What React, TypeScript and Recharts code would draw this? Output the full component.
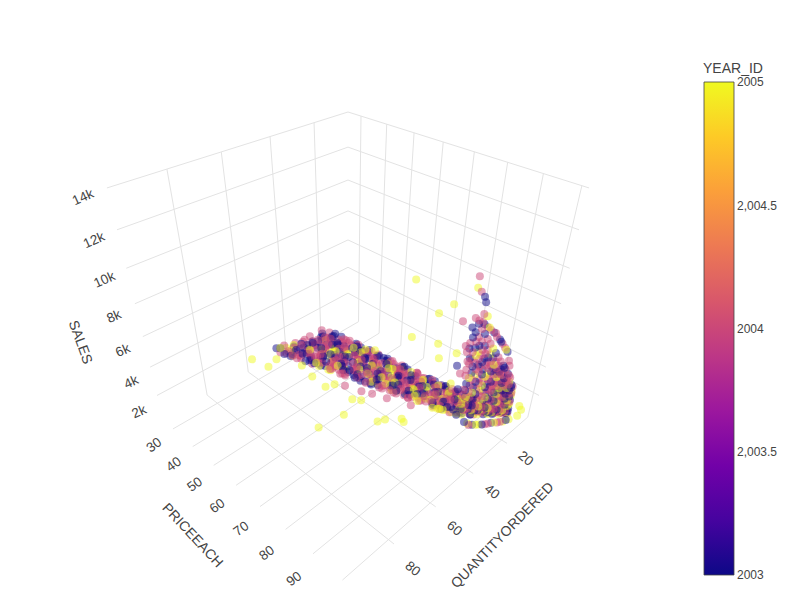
import { ReferenceArea, ReferenceLine, Scatter, ScatterChart, XAxis, YAxis } from 'recharts';

// values, row by row across the four arrays
const quantityOrdered = [
    21,24,27,30,33,36,39,42,45,48,50,22,26,29,34,38,41,44,47,25,
    20,23,28,31,35,37,40,43,46,49,21,25,27,32,36,39,42,45,48,30,
    22,26,29,33,37,41,44,47,50,20,24,28,31,35,38,42,46,49,27,34,
    21,25,30,34,39,43,45,48,23,27,32,36,40,44,47,50,20,29,37,41,
    24,28,31,35,38,42,46,49,20,22,26,33,37,40,44,48,30,27,41,50,
    21,25,29,32,36,39,43,47,50,23,27,31,34,38,41,45,48,20,28,44,
    22,26,30,33,37,40,44,46,49,20,24,28,35,39,42,47,50,31,25,43,
    21,24,27,32,36,38,41,45,48,50,23,29,34,37,43,46,20,26,39,30,
    25,28,31,35,40,42,44,47,49,22,20,27,33,36,38,45,50,30,24,41,
    20,23,26,29,34,37,39,43,46,48,21,28,32,35,41,44,47,50,25,31,
    22,24,27,30,33,36,40,42,45,49,20,26,29,34,38,43,47,50,31,37,
    21,25,28,32,35,39,41,44,46,48,23,27,30,37,42,50,20,34,43,26,
    20,24,27,31,34,38,41,45,47,50,22,26,29,33,36,40,44,48,25,37,
    21,23,28,30,35,39,42,46,49,20,25,27,32,37,40,43,45,48,50,34,
    20,23,26,28,31,33,35,37,40,43,46,49,22,25,30,34,39,44,47,50,
    21,24,27,29,33,36,38,41,44,47,50,20,26,30,34,35,40,43,45,49,
    21,23,25,28,30,32,36,39,41,43,45,48,20,22,27,33,37,40,44,50,
    22,24,26,28,31,33,35,38,42,46,49,20,25,27,30,34,36,40,44,48,
    21,23,25,29,32,34,36,39,43,45,47,50,22,26,28,31,37,41,44,49,
    20,22,24,26,30,33,35,37,40,42,46,49,21,25,28,32,36,39,44,50,
    21,23,25,27,29,32,34,36,38,41,45,48,20,24,28,33,37,40,44,49,
    20,22,25,28,30,33,35,38,40,42,44,47,49,21,26,31,36,39,43,50,
    21,23,26,29,32,34,37,39,43,46,48,20,24,27,30,35,40,44,47,50,
    22,24,27,30,33,36,38,40,42,45,49,20,23,26,31,34,39,43,47,50,
    21,23,25,28,32,35,37,39,41,44,46,48,20,27,30,33,36,42,45,50,
    20,22,24,26,29,31,33,36,38,40,43,45,47,49,21,28,34,39,44,50,
    21,23,25,28,30,32,35,37,39,42,46,49,20,24,27,34,38,41,44,50,
    20,22,24,26,29,31,33,36,38,41,44,47,21,28,34,39,42,46,48,50,
    20,21,22,23,24,25,26,27,28,29,30,31,32,33,34,35,
    36,37,38,39,40,41,42,43,44,45,46,47,48,49,50,21,
    22,24,26,28,30,32,34,36,38,40,42,44,46,48,50,20,
    21,23,25,27,29,31,33,35,37,39,41,43,45,47,49,20,
    20,22,25,27,30,32,35,37,40,42,45,47,50,24,28,34,
    21,23,26,29,31,33,36,38,41,43,44,46,48,49,20,28,
    20,22,24,27,30,33,35,37,39,41,43,45,47,50,26,32,
    20,21,23,25,28,30,32,34,36,38,40,42,44,46,48,50,
    26,28,30,32,34,36,38,40,42,44,25,29,33,37,41,45,
    20,22,24,26,28,30,32,34,36,38,40,42,44,46,48,50,
    21,23,25,27,29,31,33,35,37,39,41,43,45,47,49,50,
    20,22,24,26,28,30,32,34,36,38,40,42,44,46,48,50,
    21,23,25,27,29,31,33,35,37,39,41,43,45,47,49,24,
    20,22,24,26,28,30,32,34,36,38,40,42,44,46,48,50,
    21,23,25,27,29,31,33,35,37,39,41,43,45,47,49,30,
    23,25,27,29,31,33,35,37,39,41,43,45,47,49,24,28,
    18,22,26,30,34,38,42,45,20,24,28,32,36,40,44,47,
    52,54,56,53,55,51,57,52,54,56,50,53,
    76,60,66,76,65,64,56,55,47,43,50,50,48,46,45,45,
    62,61,56,47,54,60,63,60,90,84,80,77,72,73,68,68,24,21,18,
    12,10,12,50,51,52,50,60,60,59,59,58,
];
const priceEach = [
    30,29,31,28,32,30,29,31,30,28,32,27,31,33,29,31,30,28,29,33,
    35,36,34,37,35,34,36,38,35,37,38,34,37,35,37,36,34,37,36,38,
    40,41,39,42,40,43,41,39,40,42,39,43,41,40,42,39,43,41,40,39,
    45,46,44,47,45,44,46,48,47,44,46,45,48,46,44,47,48,45,46,44,
    50,49,52,50,51,49,53,50,52,49,51,53,49,52,50,51,49,53,51,50,
    55,54,56,58,55,57,54,56,55,57,55,54,56,58,55,57,54,56,58,55,
    60,61,59,62,60,63,61,59,60,62,59,63,60,61,59,62,61,60,63,59,
    65,66,64,67,65,68,64,66,65,67,64,68,66,65,67,64,68,65,66,67,
    70,71,69,72,70,73,69,71,70,72,73,69,71,70,72,69,71,73,70,72,
    75,76,74,77,75,78,74,76,75,77,78,74,76,75,77,74,78,75,76,74,
    80,81,79,82,80,83,79,81,80,82,79,83,81,80,82,79,81,80,83,79,
    85,86,84,87,85,88,84,86,85,87,84,88,86,85,87,84,88,86,85,84,
    90,91,89,92,90,93,89,91,90,92,93,89,91,90,92,89,93,91,90,89,
    95,97,94,98,96,95,99,94,97,96,98,95,97,94,99,96,98,95,97,99,
    32,33,32,34,33,32,34,33,34,32,33,34,33,34,32,33,32,34,33,34,
    37,38,39,38,37,39,38,37,39,38,37,39,38,37,39,38,37,39,38,37,
    43,42,44,43,42,44,43,42,44,43,42,44,43,44,42,43,44,42,43,44,
    48,47,49,48,47,49,48,47,49,48,47,49,48,47,49,48,47,49,48,47,
    53,52,54,53,52,54,53,52,54,53,52,54,53,54,52,53,54,52,53,54,
    58,57,59,58,57,59,58,57,59,58,57,59,58,59,57,58,59,57,58,59,
    63,62,64,63,62,64,63,62,64,63,62,64,63,64,62,63,64,62,63,64,
    68,67,69,68,67,69,68,67,69,68,67,69,68,69,67,68,69,67,68,69,
    73,72,74,73,72,74,73,72,74,73,72,74,73,74,72,73,74,72,73,74,
    78,77,79,78,77,79,78,77,79,78,77,79,78,79,77,78,79,77,78,79,
    83,82,84,83,82,84,83,82,84,83,82,84,83,84,82,83,84,82,83,84,
    88,87,89,88,87,89,88,87,89,88,87,89,88,87,89,88,87,89,88,87,
    93,92,94,93,92,94,93,92,94,93,92,94,93,94,92,93,94,92,93,94,
    98,97,99,98,97,99,98,97,99,98,97,99,98,99,97,98,99,97,98,99,
    100,100,100,100,100,100,100,100,100,100,100,100,100,100,100,100,
    100,100,100,100,100,100,100,100,100,100,100,100,100,100,100,100,
    100,100,100,100,100,100,100,100,100,100,100,100,100,100,100,100,
    100,100,100,100,100,100,100,100,100,100,100,100,100,100,100,100,
    100,100,100,100,100,100,100,100,100,100,100,100,100,100,100,100,
    100,100,100,100,100,100,100,100,100,100,100,100,100,100,100,100,
    100,100,100,100,100,100,100,100,100,100,100,100,100,100,100,100,
    100,100,100,100,100,100,100,100,100,100,100,100,100,100,100,100,
    100,100,100,100,100,100,100,100,100,100,100,100,100,100,100,100,
    100,100,100,100,100,100,100,100,100,100,100,100,100,100,100,100,
    100,100,100,100,100,100,100,100,100,100,100,100,100,100,100,100,
    100,100,100,100,100,100,100,100,100,100,100,100,100,100,100,100,
    100,100,100,100,100,100,100,100,100,100,100,100,100,100,100,100,
    100,100,100,100,100,100,100,100,100,100,100,100,100,100,100,100,
    100,100,100,100,100,100,100,100,100,100,100,100,100,100,100,100,
    100,100,100,100,100,100,100,100,100,100,100,100,100,100,100,100,
    100,100,100,100,100,100,100,100,100,100,100,100,100,100,100,100,
    100,100,100,100,100,100,100,100,100,100,100,100,
    100,100,100,100,100,100,100,100,100,100,100,100,100,100,100,100,
    30,37,36,29,46,56,64,65,85,88,95,95,97,97,78,81,44,47,49,
    100,100,100,95,94,93,94,69,75,78,83,90,
];
const sales = [
    630,696,837,840,1056,1080,1131,1302,1350,1344,1600,594,806,957,986,1178,1230,1232,1363,825,
    700,828,952,1147,1225,1258,1440,1634,1610,1813,798,850,999,1120,1332,1404,1428,1665,1728,1140,
    880,1066,1131,1386,1480,1763,1804,1833,2000,840,936,1204,1271,1400,1596,1638,1978,2009,1080,1326,
    945,1150,1320,1598,1755,1892,2070,2304,1081,1188,1472,1620,1920,2024,2068,2350,960,1305,1702,1804,
    1200,1372,1612,1750,1938,2058,2438,2450,1040,1078,1326,1749,1813,2080,2200,2448,1470,1431,2091,2500,
    1155,1350,1624,1856,1980,2223,2322,2632,2750,1311,1485,1674,1904,2204,2255,2565,2592,1120,1624,2420,
    1320,1586,1770,2046,2220,2520,2684,2714,2940,1240,1416,1764,2100,2379,2478,2914,3050,1860,1575,2537,
    1365,1584,1728,2144,2340,2584,2624,2970,3120,3350,1472,1972,2244,2405,2881,2944,1360,1690,2574,2010,
    1750,1988,2139,2520,2800,3066,3036,3337,3430,1584,1460,1863,2343,2520,2736,3105,3550,2190,1680,2952,
    1500,1748,1924,2233,2550,2886,2886,3268,3450,3696,1638,2072,2432,2625,3157,3256,3666,3750,1900,2294,
    1760,1944,2133,2460,2640,2988,3160,3402,3600,4018,1580,2158,2349,2720,3116,3397,3807,4000,2573,2923,
    1785,2150,2352,2784,2975,3432,3444,3784,3910,4176,1932,2376,2580,3145,3654,4200,1760,2924,3655,2184,
    1800,2184,2403,2852,3060,3534,3649,4095,4230,4600,2046,2314,2639,2970,3312,3560,4092,4368,2250,3293,
    1995,2231,2632,2940,3360,3705,4158,4324,4753,1920,2450,2565,3104,3478,3960,4128,4410,4560,4850,3366,
    640,759,832,952,1023,1056,1190,1221,1360,1376,1518,1666,726,850,960,1122,1248,1496,1551,1700,
    777,912,1053,1102,1221,1404,1444,1517,1716,1786,1850,780,988,1110,1326,1330,1480,1677,1710,1813,
    903,966,1100,1204,1260,1408,1548,1638,1804,1849,1890,2112,860,968,1134,1419,1628,1680,1892,2200,
    1056,1128,1274,1344,1457,1617,1680,1786,2058,2208,2303,980,1200,1269,1470,1632,1692,1960,2112,2256,
    1113,1196,1350,1537,1664,1836,1908,2028,2322,2385,2444,2700,1166,1404,1456,1643,1998,2132,2332,2646,
    1160,1254,1416,1508,1710,1947,2030,2109,2360,2436,2622,2891,1218,1475,1596,1856,2124,2223,2552,2950,
    1323,1426,1600,1701,1798,2048,2142,2232,2432,2583,2790,3072,1260,1536,1736,2079,2368,2480,2772,3136,
    1360,1474,1725,1904,2010,2277,2380,2546,2760,2856,2948,3243,3332,1449,1742,2108,2484,2613,2924,3450,
    1533,1656,1924,2117,2304,2516,2701,2808,3182,3358,3456,1480,1752,1998,2160,2555,2960,3168,3431,3700,
    1716,1848,2133,2340,2541,2844,2964,3080,3318,3510,3773,1580,1794,2054,2387,2652,3081,3311,3666,3950,
    1743,1886,2100,2324,2624,2940,3071,3198,3444,3652,3772,4032,1660,2268,2460,2739,3024,3444,3735,4200,
    1760,1914,2136,2288,2523,2759,2904,3132,3382,3520,3741,4005,4136,4263,1869,2464,2958,3471,3872,4350,
    1953,2116,2350,2604,2760,3008,3255,3404,3666,3906,4232,4606,1860,2256,2484,3162,3572,3772,4092,4700,
    1960,2134,2376,2548,2813,3069,3234,3492,3762,4018,4268,4653,2058,2772,3298,3822,4158,4462,4704,4950,
    2150,2270,2420,2440,2640,2700,2810,2970,3080,3100,3300,3320,3520,3530,3740,3780,
    3900,4070,4100,4290,4360,4510,4540,4730,4750,4950,5000,5170,5180,5390,5450,2500,
    2800,3000,3300,3500,3800,4000,4300,4500,4800,5000,5300,5500,5800,6000,6300,2500,
    2950,3200,3500,3780,4060,4340,4620,4900,5180,5460,5740,6020,6300,6580,6860,2800,
    3100,3400,3900,4200,4650,4950,5400,5750,6200,6500,7000,7300,7750,3700,4350,5300,
    3570,3900,4400,4900,5250,5600,6100,6450,6950,7300,7500,7800,8150,8300,3400,4750,
    3700,4050,4450,5000,5550,6100,6500,6850,7200,7600,7950,8300,8700,9200,4800,5900,
    4000,4200,4600,5000,5600,6000,6400,6800,7200,7600,8000,8400,8800,9200,9600,10000,
    6200,6900,7300,7700,8100,8400,8800,9100,9400,9700,5800,7100,7900,8700,9300,9900,
    2300,2530,2760,2990,3220,3450,3680,3910,4140,4370,4600,4830,5060,5290,5520,5750,
    2770,3040,3300,3560,3830,4090,4360,4620,4880,5150,5410,5680,5940,6200,6470,6600,
    2960,3260,3550,3850,4140,4440,4740,5030,5330,5620,5920,6220,6510,6810,7100,7400,
    3420,3750,4080,4400,4730,5050,5380,5700,6030,6360,6680,7010,7340,7660,7990,3900,
    3560,3920,4270,4630,4980,5340,5700,6050,6410,6760,7120,7480,7830,8190,8540,8900,
    4030,4420,4800,5180,5570,5950,6340,6720,7100,7490,7870,8260,8640,9020,9410,5760,
    4880,5300,5720,6150,6570,7000,7420,7840,8270,8690,9120,9540,9960,10400,5090,5940,
    1500,1750,2100,2500,2800,3200,3600,4000,1650,1950,2300,2650,3000,3400,3800,4300,
    6000,6400,7200,7800,8400,8800,7600,9200,5800,6600,8200,6900,
    14000,11860,11880,11570,10370,9570,9150,10690,10120,10040,12450,11920,11600,11230,10885,10300,
    1880,2000,2008,1390,2460,3300,3800,3800,6500,7000,7100,6900,6500,6800,5100,5400,1060,990,880,
    1880,1400,1150,4750,4794,4836,4700,4160,4500,4600,4900,5220,
];
const yearId = [
    2004,2003,2003,2004,2003,2004,2004,2003,2005,2003,2004,2004,2003,2003,2004,2003,2005,2004,2003,2004,
    2003,2004,2005,2003,2004,2004,2003,2004,2003,2005,2004,2003,2004,2004,2003,2005,2003,2004,2003,2004,
    2004,2003,2004,2005,2003,2004,2003,2004,2004,2003,2004,2003,2005,2004,2003,2004,2003,2004,2003,2004,
    2003,2004,2004,2003,2005,2004,2003,2004,2003,2004,2005,2003,2004,2004,2003,2004,2003,2005,2004,2003,
    2004,2003,2004,2004,2003,2005,2004,2003,2004,2003,2004,2005,2003,2004,2004,2003,2004,2003,2004,2005,
    2003,2004,2005,2004,2003,2004,2003,2004,2005,2003,2004,2004,2003,2004,2003,2005,2004,2003,2004,2004,
    2004,2003,2004,2003,2005,2004,2004,2003,2004,2004,2003,2005,2004,2003,2004,2003,2004,2005,2003,2004,
    2003,2004,2004,2005,2003,2004,2003,2004,2004,2003,2005,2004,2003,2004,2005,2003,2004,2004,2003,2004,
    2004,2005,2003,2004,2004,2003,2004,2005,2003,2004,2003,2004,2004,2003,2005,2004,2003,2004,2003,2005,
    2003,2004,2004,2003,2005,2004,2003,2004,2004,2005,2003,2004,2003,2004,2004,2003,2005,2004,2003,2004,
    2004,2003,2005,2004,2003,2004,2004,2003,2005,2004,2003,2004,2004,2005,2003,2004,2003,2004,2005,2003,
    2003,2004,2004,2005,2003,2004,2003,2005,2004,2004,2003,2005,2004,2003,2004,2004,2003,2004,2005,2003,
    2004,2003,2005,2004,2004,2003,2004,2005,2003,2004,2004,2003,2005,2004,2003,2004,2005,2003,2004,2004,
    2003,2004,2004,2003,2005,2004,2003,2004,2005,2004,2003,2004,2005,2003,2004,2004,2003,2005,2004,2003,
    2003,2003,2004,2004,2003,2004,2004,2003,2003,2004,2005,2004,2003,2004,2004,2003,2004,2003,2004,2003,
    2004,2004,2003,2003,2004,2005,2004,2004,2003,2004,2003,2004,2003,2004,2004,2003,2005,2004,2003,2004,
    2003,2004,2003,2004,2004,2003,2005,2004,2003,2004,2004,2003,2004,2003,2004,2005,2003,2004,2004,2003,
    2004,2003,2004,2004,2005,2003,2004,2003,2004,2004,2003,2004,2005,2003,2004,2003,2004,2004,2003,2005,
    2003,2004,2004,2003,2004,2005,2003,2004,2003,2004,2004,2005,2003,2004,2003,2004,2004,2003,2005,2004,
    2004,2003,2005,2004,2003,2004,2004,2003,2005,2004,2003,2004,2004,2003,2004,2005,2003,2004,2003,2004,
    2003,2004,2004,2005,2003,2004,2003,2004,2004,2005,2003,2004,2003,2004,2005,2004,2003,2004,2004,2003,
    2004,2005,2003,2004,2004,2003,2005,2004,2004,2003,2004,2005,2003,2004,2004,2003,2004,2005,2003,2004,
    2003,2004,2005,2004,2003,2004,2004,2005,2003,2004,2003,2004,2005,2004,2003,2004,2003,2005,2004,2004,
    2004,2003,2004,2005,2003,2004,2005,2004,2003,2004,2004,2003,2005,2004,2003,2004,2005,2004,2003,2004,
    2003,2005,2004,2004,2003,2005,2004,2003,2004,2005,2003,2004,2004,2005,2003,2004,2004,2003,2005,2004,
    2004,2003,2005,2004,2004,2003,2004,2005,2003,2004,2005,2003,2004,2004,2003,2005,2004,2003,2004,2005,
    2005,2004,2003,2004,2005,2003,2004,2004,2005,2003,2004,2003,2005,2004,2004,2003,2005,2004,2003,2004,
    2003,2004,2005,2003,2004,2005,2004,2003,2005,2004,2003,2005,2004,2003,2004,2005,2003,2004,2005,2003,
    2004,2003,2005,2004,2003,2004,2005,2003,2004,2004,2003,2005,2004,2003,2004,2005,
    2003,2004,2004,2005,2003,2004,2003,2004,2005,2004,2003,2004,2004,2005,2003,2004,
    2005,2004,2003,2004,2005,2003,2004,2004,2003,2005,2004,2003,2004,2005,2004,2003,
    2004,2005,2003,2004,2004,2003,2005,2004,2003,2004,2005,2004,2003,2004,2003,2005,
    2003,2004,2005,2004,2003,2005,2004,2003,2004,2004,2005,2003,2004,2005,2003,2004,
    2004,2003,2004,2005,2003,2004,2004,2005,2003,2004,2003,2004,2004,2003,2005,2004,
    2005,2004,2003,2004,2005,2004,2003,2004,2004,2003,2004,2005,2003,2004,2004,2003,
    2004,2003,2005,2004,2004,2003,2004,2004,2003,2005,2004,2003,2004,2004,2003,2003,
    2004,2003,2004,2004,2003,2004,2003,2004,2004,2003,2004,2005,2003,2004,2005,2004,
    2003,2004,2005,2004,2003,2004,2004,2005,2003,2004,2005,2004,2003,2003,2004,2005,
    2005,2003,2004,2004,2005,2003,2004,2003,2005,2004,2004,2003,2005,2004,2003,2004,
    2004,2005,2003,2004,2004,2005,2003,2004,2004,2003,2005,2004,2003,2004,2005,2004,
    2003,2004,2004,2003,2005,2004,2004,2003,2004,2005,2003,2004,2004,2003,2004,2003,
    2004,2003,2005,2004,2003,2004,2005,2004,2003,2004,2004,2003,2004,2005,2004,2003,
    2003,2004,2004,2003,2004,2003,2004,2005,2004,2003,2004,2004,2003,2004,2003,2004,
    2004,2003,2004,2003,2004,2004,2003,2005,2004,2004,2003,2004,2003,2004,2004,2003,
    2005,2005,2004,2003,2004,2005,2003,2005,2003,2004,2005,2004,2003,2005,2004,2003,
    2004,2003,2004,2004,2003,2004,2005,2004,2003,2004,2004,2003,
    2005,2005,2005,2005,2005,2005,2005,2004,2004,2005,2004,2005,2004,2003,2003,2004,
    2005,2005,2005,2005,2005,2005,2005,2005,2005,2005,2005,2005,2005,2005,2005,2005,2005,2005,2005,
    2005,2005,2005,2005,2005,2005,2005,2004,2004,2004,2004,2004,
];

const quantityTicks = [20, 40, 60, 80];
const priceTicks = [30, 40, 50, 60, 70, 80, 90, 100];
const priceTickLabels = [30, 40, 50, 60, 70, 80, 90];
const salesTicks = [2000, 4000, 6000, 8000, 10000, 12000, 14000];
const yearTicks = [2003, 2003.5, 2004, 2004.5, 2005];

const quantityRange = [3.1, 99.7];
const priceRange = [24.7, 101.8];
const salesRange = [150, 14000];

const yearColors: Record<number, string> = { 2003: '#0d0887', 2004: '#cc4778', 2005: '#f0f921' };
const plasma = ['#0d0887', '#46039f', '#7201a8', '#9c179e', '#bd3786', '#d8576b', '#ed7953', '#fb9f3a', '#fdca26', '#f0f921'];

const GRID = '#e3e3e3';
const TEXT = '#444';
const FONT = '"Liberation Sans", Arial, sans-serif';

const norm = (v: number, r: number[]) => -1 + (2 * (v - r[0])) / (r[1] - r[0]);

/** Camara del plot 3D: cubo normalizado a pantalla. */
function project(quantity: number, price: number, sale: number) {
    const a = norm(quantity, quantityRange);
    const b = norm(price, priceRange);
    const c = norm(sale, salesRange);
    const w = 1 - 0.1276 * (a + b) - 0.1315 * c;
    return {
        sx: 348 + (104.7 * (b - a)) / w,
        sy: (319.25 + 18.7 * (a + b) - 156 * c) / w,
    };
}

const [qMin, qMax] = quantityRange;
const [pMin, pMax] = priceRange;
const [sMin, sMax] = salesRange;

const points = quantityOrdered.map((q, i) => ({
    ...project(q, priceEach[i], sales[i]),
    year: yearId[i],
}));

type Seg = [{ sx: number; sy: number }, { sx: number; sy: number }];
const gridLines: Seg[] = [
    ...quantityTicks.flatMap((q): Seg[] => [
        [project(q, pMin, sMin), project(q, pMax, sMin)],
        [project(q, pMin, sMin), project(q, pMin, sMax)],
    ]),
    ...priceTicks.flatMap((p): Seg[] => [
        [project(qMin, p, sMin), project(qMax, p, sMin)],
        [project(qMin, p, sMin), project(qMin, p, sMax)],
    ]),
    ...salesTicks.flatMap((s): Seg[] => [
        [project(qMax, pMin, s), project(qMin, pMin, s)],
        [project(qMin, pMin, s), project(qMin, pMax, s)],
    ]),
];

const labels = [
    ...salesTicks.map((s) => {
        const p = project(qMax, pMin, s);
        const k = (14000 - s) / 12000;
        return { sx: p.sx - 24 + 6 * k, sy: p.sy + 9 + 7 * k, text: `${s / 1000}k`, angle: -24, size: 13.5 };
    }),
    ...priceTickLabels.map((v) => {
        const p = project(qMax, v, sMin);
        return { sx: p.sx - 19, sy: p.sy + 16 + (v - 30) * 0.15, text: String(v), angle: -36, size: 13.5 };
    }),
    ...quantityTicks.map((q) => {
        const p = project(q, pMax, sMin);
        return { sx: p.sx + 19, sy: p.sy + 15 + (q - 20) * 0.16, text: String(q), angle: 40, size: 13.5 };
    }),
    { sx: 81, sy: 342, text: 'SALES', angle: 70, size: 14 },
    { sx: 193, sy: 535, text: 'PRICEEACH', angle: 47, size: 14 },
    { sx: 502, sy: 535, text: 'QUANTITYORDERED', angle: -46, size: 14 },
    { sx: 733, sy: 68, text: 'YEAR_ID', angle: 0, size: 14 },
];

function Dot(props: any) {
    const { cx, cy, payload } = props;
    return <circle cx={cx} cy={cy} r={4} fill={yearColors[payload.year]} fillOpacity={0.5} />;
}

function AxisText(props: any) {
    const { cx, cy, payload } = props;
    return (
        <text
            x={cx}
            y={cy}
            textAnchor="middle"
            dominantBaseline="central"
            transform={`rotate(${payload.angle} ${cx} ${cy})`}
            fontSize={payload.size}
            fontFamily={FONT}
            fill={TEXT}
        >
            {payload.text}
        </text>
    );
}

const formatYear = (v: number) =>
    Number.isInteger(v) ? String(v) : v.toLocaleString('en-US', { minimumFractionDigits: 1 });

export default function App() {
    return (
        <div style={{ position: 'absolute', left: 0, top: 0, width: 800, height: 600, background: '#fff', overflow: 'hidden' }}>
            <svg width={1} height={1} style={{ position: 'absolute' }}>
                <defs>
                    <linearGradient id="plasmaBar" x1="0" y1="1" x2="0" y2="0">
                        {plasma.map((c, i) => (
                            <stop key={c} offset={i / (plasma.length - 1)} stopColor={c} />
                        ))}
                    </linearGradient>
                </defs>
            </svg>
            <div style={{ position: 'absolute', left: 0, top: 0 }}>
                <ScatterChart width={800} height={600} margin={{ top: 0, right: 0, bottom: 0, left: 0 }}>
                    <XAxis type="number" dataKey="sx" domain={[0, 800]} hide allowDataOverflow />
                    <YAxis type="number" dataKey="sy" domain={[0, 600]} reversed hide allowDataOverflow />
                    {gridLines.map(([from, to], i) => (
                        <ReferenceLine
                            key={i}
                            segment={[
                                { x: from.sx, y: from.sy },
                                { x: to.sx, y: to.sy },
                            ]}
                            stroke={GRID}
                            strokeWidth={1}
                            ifOverflow="visible"
                        />
                    ))}
                    <Scatter data={points} shape={Dot} isAnimationActive={false} />
                    <Scatter data={labels} shape={AxisText} isAnimationActive={false} />
                </ScatterChart>
            </div>
            <div style={{ position: 'absolute', left: 690, top: 62 }}>
                <ScatterChart width={110} height={531} margin={{ top: 20, right: 0, bottom: 18, left: 14 }}>
                    <XAxis type="number" dataKey="x" domain={[0, 1]} hide />
                    <YAxis
                        type="number"
                        dataKey="y"
                        orientation="right"
                        width={66}
                        domain={[2003, 2005]}
                        ticks={yearTicks}
                        interval={0}
                        tickFormatter={formatYear}
                        axisLine={false}
                        tickLine={false}
                        tickSize={0}
                        tickMargin={3}
                        tick={{ fontSize: 12, fontFamily: FONT, fill: TEXT, textAnchor: 'start' }}
                    />
                    <Scatter data={[{ x: 0, y: 2003 }, { x: 1, y: 2005 }]} shape={() => null} isAnimationActive={false} />
                    <ReferenceArea
                        x1={0}
                        x2={1}
                        y1={2003}
                        y2={2005}
                        fill="url(#plasmaBar)"
                        fillOpacity={1}
                        stroke="#444"
                        strokeOpacity={0.8}
                        strokeWidth={1}
                    />
                </ScatterChart>
            </div>
        </div>
    );
}
